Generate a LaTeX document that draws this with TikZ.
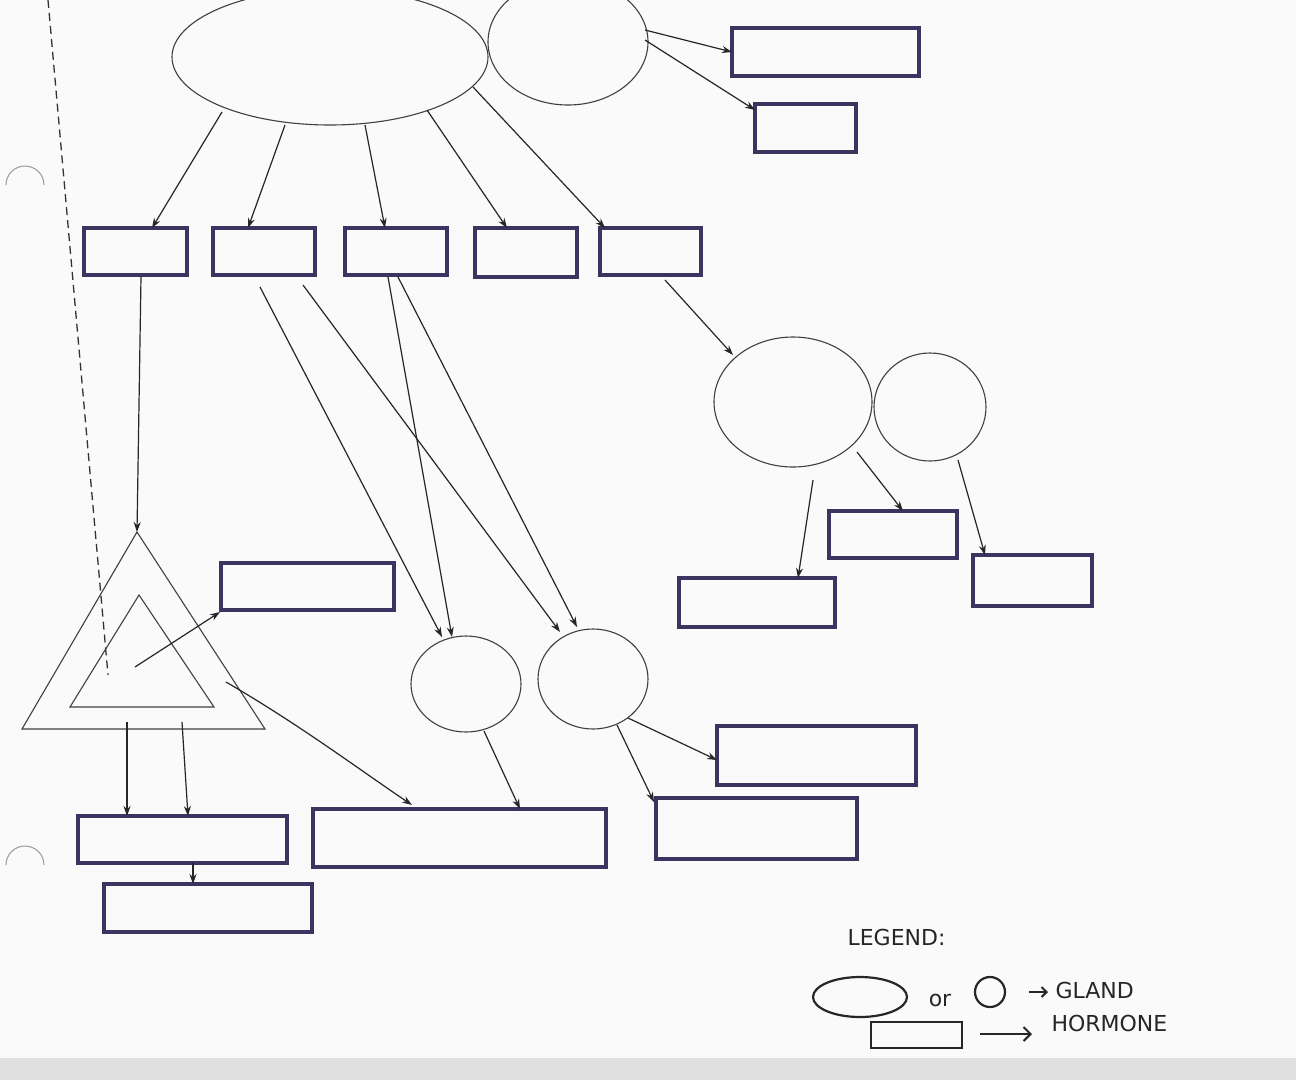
\documentclass[tikz,border=0pt]{standalone}
\usepackage{fontspec}
\setmainfont{DejaVu Sans}
\usetikzlibrary{arrows.meta}
\begin{document}
\begin{tikzpicture}[x=1pt,y=-1pt,
  hbox/.style={draw=boxblue,line width=3.4pt},
  gl/.style={draw=black!75,line width=1.1pt},
  arr/.style={-{Stealth[length=10pt,width=7pt]},line width=1.2pt,black!85},
  hand/.style={font=\fontsize{22}{24}\selectfont,black!85}]
\definecolor{boxblue}{HTML}{3A3560}
\useasboundingbox (0,0) rectangle (1296,1080);
\fill[black!2] (0,0) rectangle (1296,1080);
\fill[black!12] (0,1058) rectangle (1296,1080);
% hole punches
\draw[black!40,line width=1pt] (44,185) arc (0:-180:19) ;
\draw[black!40,line width=1pt] (44,865) arc (0:-180:19) ;
% dashed line
\draw[dash pattern=on 8pt off 5pt,line width=1.3pt,black!80] (48,0) -- (108,675);
% top glands
\draw[gl] (330,57) ellipse [x radius=158,y radius=68];
\draw[gl] (568,42) ellipse [x radius=80,y radius=63];
% hormone boxes
\draw[hbox] (732,28) rectangle (919,76);
\draw[hbox] (755,104) rectangle (856,152);
\draw[hbox] (84,228) rectangle (187,275);
\draw[hbox] (213,228) rectangle (315,275);
\draw[hbox] (345,228) rectangle (447,275);
\draw[hbox] (475,228) rectangle (577,277);
\draw[hbox] (600,228) rectangle (701,275);
\draw[hbox] (829,511) rectangle (957,558);
\draw[hbox] (679,578) rectangle (835,627);
\draw[hbox] (973,555) rectangle (1092,606);
\draw[hbox] (221,563) rectangle (394,610);
\draw[hbox] (78,816) rectangle (287,863);
\draw[hbox] (104,884) rectangle (312,932);
\draw[hbox] (313,809) rectangle (606,867);
\draw[hbox] (717,726) rectangle (916,785);
\draw[hbox] (656,798) rectangle (857,859);
% right glands
\draw[gl] (793,402) ellipse [x radius=79,y radius=65];
\draw[gl] (930,407) ellipse [x radius=56,y radius=54];
% small glands
\draw[gl] (466,684) ellipse [x radius=55,y radius=48];
\draw[gl] (593,679) ellipse [x radius=55,y radius=50];
% triangles
\draw[gl] (137,532) -- (265,729) -- (22,729) -- cycle;
\draw[gl] (139,595) -- (214,707) -- (70,707) -- cycle;
% arrows
\draw[arr] (645,30) -- (732,52);
\draw[arr] (645,40) -- (755,110);
\draw[arr] (222,112) -- (152,228);
\draw[arr] (285,125) -- (248,228);
\draw[arr] (365,125) -- (385,228);
\draw[arr] (427,110) -- (507,228);
\draw[arr] (473,87) -- (605,228);
\draw[arr] (665,280) -- (733,355);
\draw[arr] (813,480) -- (798,578);
\draw[arr] (857,452) -- (903,511);
\draw[arr] (958,460) -- (985,555);
\draw[arr] (141,277) -- (137,532);
\draw[arr] (135,667) -- (220,612);
\draw[arr] (260,287) -- (442,637);
\draw[arr] (303,285) -- (560,632);
\draw[arr] (388,277) -- (452,637);
\draw[arr] (398,277) -- (577,627);
\draw[arr] (127,722) -- (127,816);
\draw[arr] (182,722) -- (188,816);
\draw[arr] (193,863) -- (193,884);
\draw[arr] (226,682) .. controls (300,725) and (360,770) .. (412,805);
\draw[arr] (484,731) -- (520,809);
\draw[arr] (628,718) -- (717,760);
\draw[arr] (617,725) -- (654,802);
% legend
\node[hand,anchor=west] (lg) at (844,937) {LEGEND:};
\draw[line width=2.2pt,black!85] (860,997) ellipse [x radius=47,y radius=20];
\node[hand] (or) at (940,1000) {or};
\draw[line width=2.2pt,black!85] (990,992) circle (15);
\coordinate (a1) at (1029,992); \coordinate (a2) at (1048,992);
\draw[-{Straight Barb[length=5pt]},line width=2pt,black!85] (a1) -- (a2);
\node[hand,anchor=west] (gland) at (1052,990) {GLAND};
\draw[line width=2.2pt,black!85] (871,1022) rectangle (962,1048);
\coordinate (a3) at (980,1034); \coordinate (a4) at (1032,1034);
\draw[-{Straight Barb[length=7pt]},line width=2pt,black!85] (a3) -- (a4);
\node[hand,anchor=west] (horm) at (1048,1023) {HORMONE};
\end{tikzpicture}
\end{document}
